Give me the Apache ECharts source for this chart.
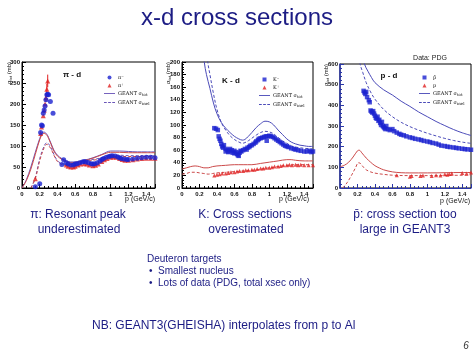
<!DOCTYPE html>
<html><head><meta charset="utf-8">
<script src="https://cdn.jsdelivr.net/npm/echarts@6/dist/echarts.min.js"></script>
<style>html,body{margin:0;padding:0;background:#fff}#c{width:474px;height:355px}</style>
</head><body><div id="c"></div>
<script>
// ---------- data ----------
const xTicks = [0, 0.2, 0.4, 0.6, 0.8, 1.0, 1.2, 1.4];
// Panel 1: pi - d
const piMinus = [[0.15,3],[0.2,10],[0.21,132],[0.22,150],[0.23,148],[0.24,178],[0.25,186],[0.26,195],[0.27,210],[0.28,222],[0.29,223],[0.3,222],[0.32,206],[0.35,178],[0.45,56],[0.47,67],[0.5,60],[0.52,57],[0.55,55],[0.58,55],[0.6,57],[0.62,58],[0.65,60],[0.68,62],[0.7,63],[0.72,62],[0.75,60],[0.78,58],[0.8,57],[0.82,58],[0.85,60],[0.88,64],[0.9,68],[0.92,70],[0.95,73],[0.98,75],[1.0,76],[1.02,77],[1.05,76],[1.08,74],[1.1,72],[1.12,70],[1.15,69],[1.18,68],[1.2,68],[1.25,69],[1.3,71],[1.35,72],[1.4,73],[1.45,73],[1.5,72]];
const piPlus = [[0.15,22],[0.21,130],[0.22,145],[0.24,172],[0.25,185],[0.26,200],[0.27,215],[0.28,235],[0.29,255],[0.5,55],[0.52,52],[0.55,50],[0.58,50],[0.6,52],[0.63,55],[0.66,57],[0.7,58],[0.73,57],[0.76,55],[0.8,53],[0.83,54],[0.86,57],[0.9,63],[0.93,67],[0.96,70],[1.0,73],[1.03,74],[1.06,73],[1.1,70],[1.13,68],[1.16,66],[1.2,66],[1.25,67],[1.3,69],[1.35,70],[1.4,71],[1.45,71],[1.5,71]];
const piPlusErr = [[0.28,222,248],[0.29,240,270],[0.27,205,225]];
const piMinusTot = [[0,0],[0.05,20],[0.1,50],[0.15,85],[0.2,118],[0.23,132],[0.25,133],[0.28,128],[0.3,120],[0.33,105],[0.36,90],[0.4,78],[0.45,70],[0.5,65],[0.55,62],[0.6,62],[0.7,66],[0.8,72],[0.9,80],[1.0,88],[1.1,88],[1.2,87],[1.3,86],[1.4,86],[1.5,86]];
const piPlusTot = [[0,0],[0.05,18],[0.1,45],[0.15,80],[0.2,115],[0.23,128],[0.25,130],[0.28,126],[0.3,118],[0.33,103],[0.36,88],[0.4,76],[0.45,68],[0.5,63],[0.55,60],[0.6,61],[0.7,65],[0.8,71],[0.9,79],[1.0,85],[1.1,85],[1.2,84],[1.3,84],[1.4,84],[1.5,84]];
const piMinusInel = [[0.1,0],[0.15,25],[0.2,70],[0.25,100],[0.28,108],[0.3,105],[0.33,95],[0.36,80],[0.4,65],[0.45,58],[0.5,56],[0.55,58],[0.6,60],[0.7,64],[0.8,68],[0.9,72],[1.0,78],[1.1,78],[1.2,77],[1.3,77],[1.4,77],[1.5,77]];
const piPlusInel = [[0.1,0],[0.15,22],[0.2,65],[0.25,96],[0.28,104],[0.3,101],[0.33,92],[0.36,78],[0.4,63],[0.45,56],[0.5,54],[0.55,56],[0.6,58],[0.7,62],[0.8,66],[0.9,70],[1.0,75],[1.1,75],[1.2,75],[1.3,75],[1.4,75],[1.5,75]];
// Panel 2: K - d
const kMinus = [[0.37,95],[0.39,94],[0.41,92],[0.42,82],[0.43,78],[0.44,75],[0.45,70],[0.46,66],[0.47,64],[0.48,68],[0.5,62],[0.5,58],[0.52,60],[0.53,57],[0.55,62],[0.55,58],[0.57,60],[0.58,56],[0.6,59],[0.6,55],[0.62,57],[0.63,54],[0.64,52],[0.65,51],[0.66,56],[0.67,59],[0.68,58],[0.7,60],[0.72,62],[0.74,61],[0.75,64],[0.77,65],[0.78,67],[0.8,68],[0.82,70],[0.84,72],[0.85,74],[0.87,76],[0.88,78],[0.9,79],[0.92,80],[0.94,81],[0.96,82],[0.97,75],[0.98,82],[1.0,83],[1.02,82],[1.04,81],[1.06,79],[1.08,77],[1.1,75],[1.12,73],[1.14,71],[1.16,69],[1.18,67],[1.2,66],[1.22,65],[1.25,63],[1.28,62],[1.3,61],[1.33,60],[1.36,59],[1.4,58],[1.43,58],[1.46,59],[1.48,57],[1.5,58]];
const kPlus = [[0.37,20],[0.4,21],[0.43,22],[0.46,23],[0.5,23],[0.53,24],[0.56,25],[0.6,25],[0.63,26],[0.66,27],[0.7,27],[0.73,28],[0.76,28],[0.8,29],[0.83,29],[0.86,30],[0.9,31],[0.93,31],[0.96,32],[1.0,32],[1.03,33],[1.06,34],[1.1,34],[1.13,35],[1.16,36],[1.2,36],[1.23,37],[1.26,36],[1.3,37],[1.33,36],[1.36,37],[1.4,36],[1.45,36],[1.5,36]];
const kMinusTot = [[0.22,250],[0.255,200],[0.28,180],[0.32,158],[0.36,135],[0.4,118],[0.45,104],[0.5,95],[0.55,88],[0.6,82],[0.65,78],[0.69,76],[0.72,77],[0.76,82],[0.8,88],[0.85,96],[0.9,102],[0.95,106],[1.0,105],[1.05,100],[1.1,92],[1.15,85],[1.2,78],[1.25,73],[1.3,70],[1.35,68],[1.4,67],[1.45,66],[1.5,66]];
const kMinusInel = [[0.26,250],[0.295,200],[0.32,180],[0.36,150],[0.4,125],[0.45,104],[0.5,92],[0.55,83],[0.6,77],[0.65,73],[0.69,71],[0.72,72],[0.76,75],[0.8,79],[0.85,84],[0.9,88],[0.95,90],[1.0,89],[1.05,86],[1.1,80],[1.15,75],[1.2,71],[1.25,67],[1.3,65],[1.4,63],[1.5,62]];
const kPlusTot = [[0,30],[0.05,32],[0.1,34],[0.15,35],[0.2,34],[0.25,32],[0.3,32],[0.35,34],[0.4,35],[0.5,36],[0.6,37],[0.7,37],[0.8,37],[0.9,39],[1.0,41],[1.1,43],[1.2,45],[1.25,45],[1.3,44],[1.4,43],[1.5,43]];
const kPlusInel = [[0,22],[0.05,23],[0.1,25],[0.15,25],[0.2,24],[0.25,23],[0.3,22],[0.35,23],[0.4,24],[0.5,25],[0.6,26],[0.7,27],[0.8,28],[0.9,30],[1.0,32],[1.1,34],[1.2,36],[1.3,37],[1.4,37],[1.5,37]];
// Panel 3: p - d
const pbar = [[0.27,470],[0.28,462],[0.29,455],[0.3,465],[0.31,440],[0.33,425],[0.34,415],[0.35,375],[0.36,370],[0.37,365],[0.38,372],[0.39,360],[0.4,350],[0.41,340],[0.42,335],[0.43,345],[0.44,325],[0.45,330],[0.46,315],[0.47,305],[0.48,320],[0.49,300],[0.5,295],[0.51,290],[0.52,285],[0.53,300],[0.55,285],[0.57,280],[0.6,285],[0.62,275],[0.65,268],[0.68,262],[0.7,258],[0.73,255],[0.76,250],[0.8,245],[0.83,242],[0.86,238],[0.9,235],[0.93,232],[0.96,228],[1.0,225],[1.03,222],[1.06,218],[1.1,215],[1.13,210],[1.16,205],[1.2,203],[1.23,200],[1.26,198],[1.3,196],[1.33,194],[1.36,192],[1.4,190],[1.43,188],[1.46,187],[1.5,185]];
const proton = [[0.65,62],[0.8,55],[0.82,58],[0.92,58],[0.95,60],[1.05,58],[1.1,62],[1.15,60],[1.2,66],[1.23,64],[1.25,68],[1.28,70],[1.4,72],[1.45,70],[1.5,75]];
const pbarTot = [[0.25,680],[0.28,600],[0.32,565],[0.36,535],[0.4,510],[0.5,475],[0.6,450],[0.7,420],[0.8,395],[0.9,368],[1.0,345],[1.1,322],[1.2,302],[1.3,283],[1.4,267],[1.5,254]];
const pbarInel = [[0.2,680],[0.23,600],[0.26,560],[0.3,510],[0.35,465],[0.4,430],[0.5,380],[0.6,345],[0.7,318],[0.8,297],[0.9,280],[1.0,265],[1.1,252],[1.2,240],[1.3,230],[1.4,222],[1.5,216]];
const protonTot = [[0,103],[0.05,110],[0.1,125],[0.15,150],[0.2,180],[0.22,183],[0.25,170],[0.3,145],[0.35,125],[0.4,108],[0.45,97],[0.5,88],[0.6,78],[0.7,74],[0.8,73],[1.0,73],[1.2,74],[1.4,75],[1.5,75]];
const protonInel = [[0.03,0],[0.08,25],[0.13,60],[0.18,100],[0.21,122],[0.23,120],[0.27,100],[0.3,88],[0.35,78],[0.4,72],[0.5,66],[0.6,62],[0.8,60],[1.0,60],[1.2,61],[1.5,62]];
const yMax = [300, 200, 600];
const yStep = [50, 20, 100];

// ---------- styles ----------
const navy = '#1c1c84';
const BLUE = '#1a22d0', RED = '#e02020';
const LBLUE = '#4a4ab8', LRED = '#cc4a4a', LPURP = '#6a55b8';
const grids = [
  {left:22, top:62, width:133, height:126},
  {left:182, top:62, width:131, height:126},
  {left:340, top:64, width:131, height:124}
];
const axisCol = ['#000','#000','#2a36a8'];

function xAx(i){
  return {gridIndex:i, type:'value', min:0, max:1.5, interval:0.2,
    axisLine:{lineStyle:{color:axisCol[i], width:1}},
    axisTick:{inside:true, length:4, lineStyle:{color:axisCol[i]}},
    minorTick:{show:true, splitNumber:4, length:2, lineStyle:{color:axisCol[i]}},
    splitLine:{show:false},
    axisLabel:{fontSize:6, margin:3, color:'#111', fontFamily:'Liberation Sans', fontWeight:'bold',
      showMaxLabel:false, formatter:v=> v===0?'0':String(Math.round(v*10)/10)}};
}
function yAx(i){
  return {gridIndex:i, type:'value', min:0, max:yMax[i], interval:yStep[i],
    axisLine:{show:true, lineStyle:{color:axisCol[i], width: i===2?1.5:1}},
    axisTick:{inside:true, length:4, lineStyle:{color:axisCol[i]}},
    minorTick:{show:true, splitNumber:5, length:2, lineStyle:{color:axisCol[i]}},
    splitLine:{show:false},
    axisLabel:{fontSize:6, margin:2, color:'#111', fontFamily:'Liberation Sans', fontWeight:'bold'}};
}
function sc(name, i, data, sym, size, color){
  return {type:'scatter', name, xAxisIndex:i, yAxisIndex:i, data, symbol:sym, symbolSize:size,
    itemStyle:{color}, z:5, silent:true};
}
function ln(name, i, data, color, dashed){
  return {type:'line', name, xAxisIndex:i, yAxisIndex:i, data, symbol:'none', smooth:0.35,
    lineStyle:{color, width:1, type: dashed?[3,2]:'solid'}, itemStyle:{color}, z:3, silent:true};
}
const legendRich = {s:{fontSize:4, fontFamily:'DejaVu Serif', color:'#111', padding:[3,0,0,0]}};
function legendFmt(n){
  if (n.startsWith('tot')) return 'GEANT σ{s|tot}';
  if (n.startsWith('inel')) return 'GEANT σ{s|inel}';
  return n;
}
const solidIcon = 'path://M0,0h12v1h-12z';
const dashIcon = 'path://M0,0h3v1h-3z M4.5,0h3v1h-3z M9,0h3v1h-3z';
const squareIcon = 'path://M0,0h1v1h-1z';
const triIcon = 'path://M0.5,0L1,1L0,1Z';
function leg(left, top, names, firstIcon){
  return {left, top, orient:'vertical',
    data:[{name:names[0], icon:firstIcon}, {name:names[1], icon:triIcon},
          {name:names[2], icon:solidIcon}, {name:names[3], icon:dashIcon}],
    itemWidth:11, itemHeight:4, itemGap:3,
    selectedMode:false, formatter:legendFmt,
    textStyle:{fontSize:5, fontFamily:'DejaVu Serif', color:'#111', padding:[0,0,0,-2], rich:legendRich}};
}

function txt(x, y, text, size, opts){
  opts = opts || {};
  return {type:'text', x, y, rotation: opts.rot||0, z:10,
    style:{text, fontSize:size, fill: opts.color||navy, fontFamily: opts.font||'Liberation Sans',
      fontWeight: opts.weight||'normal', fontStyle: opts.style||'normal',
      align: opts.align||'center', verticalAlign:'middle', rich: opts.rich}};
}
const subRich = {s:{fontSize:4, fontFamily:'Liberation Sans', fill:'#111', padding:[3,0,0,0]}};

const option = {
  animation:false,
  backgroundColor:'#fff',
  grid: grids.map(g=>Object.assign({show:true, borderColor:'#000', borderWidth:1, backgroundColor:'transparent'}, g)),
  xAxis:[xAx(0), xAx(1), xAx(2)],
  yAxis:[yAx(0), yAx(1), yAx(2)],
  legend:[
    leg(99, 70, ['π⁻','π⁺','tot1','inel1'], 'circle'),
    leg(254, 72, ['K⁻','K⁺','tot2','inel2'], squareIcon),
    leg(414, 70, ['p\u0304','p','tot3','inel3'], squareIcon)
  ],
  series:[
    ln('tot1', 0, piMinusTot, LPURP, false),
    ln('tot1r', 0, piPlusTot, LRED, false),
    ln('inel1', 0, piMinusInel, LPURP, true),
    ln('inel1r', 0, piPlusInel, LRED, true),
    {type:'custom', name:'err', xAxisIndex:0, yAxisIndex:0, data:piPlusErr, silent:true, z:4,
      renderItem:(p, api)=>{
        const a = api.coord([api.value(0), api.value(1)]);
        const b = api.coord([api.value(0), api.value(2)]);
        return {type:'line', shape:{x1:a[0], y1:a[1], x2:b[0], y2:b[1]}, style:{stroke:RED, lineWidth:1}};
      }},
    sc('π⁺', 0, piPlus, 'triangle', 5, RED),
    sc('π⁻', 0, piMinus, 'circle', 5, BLUE),

    ln('tot2', 1, kMinusTot, LBLUE, false),
    ln('inel2', 1, kMinusInel, LBLUE, true),
    ln('tot2r', 1, kPlusTot, LRED, false),
    ln('inel2r', 1, kPlusInel, LRED, true),
    sc('K⁻', 1, kMinus, 'rect', 4.5, BLUE),
    sc('K⁺', 1, kPlus, 'triangle', 4, RED),

    ln('tot3', 2, pbarTot, LBLUE, false),
    ln('inel3', 2, pbarInel, LBLUE, true),
    ln('tot3r', 2, protonTot, LRED, false),
    ln('inel3r', 2, protonInel, LRED, true),
    sc('p\u0304', 2, pbar, 'rect', 4.5, BLUE),
    sc('p', 2, proton, 'triangle', 4, RED)
  ],
  graphic:[
    txt(237, 18, 'x-d cross sections', 24),
    txt(430, 58, 'Data: PDG', 7, {color:'#222'}),
    // panel labels
    txt(72, 75, 'π - d', 8, {color:'#111', weight:'bold'}),
    txt(231, 81, 'K - d', 8, {color:'#111', weight:'bold'}),
    txt(389, 76, 'p - d', 8, {color:'#111', weight:'bold'}),
    // y titles
    txt(9, 62, 'σ{s|tot} (mb)', 6, {color:'#111', rot:Math.PI/2, align:'right', rich:subRich}),
    txt(168, 62, 'σ{s|tot} (mb)', 6, {color:'#111', rot:Math.PI/2, align:'right', rich:subRich}),
    txt(326, 64, 'σ{s|tot} (mb)', 6, {color:'#111', rot:Math.PI/2, align:'right', rich:subRich}),
    // x titles
    txt(155, 199, 'p (GeV/c)', 7, {color:'#111', align:'right'}),
    txt(309, 199, 'p (GeV/c)', 7, {color:'#111', align:'right'}),
    txt(470, 201, 'p (GeV/c)', 7, {color:'#111', align:'right'}),
    // captions
    txt(78, 215, 'π: Resonant peak', 12),
    txt(79, 230, 'underestimated', 12),
    txt(245, 215, 'K: Cross sections', 12),
    txt(246, 230, 'overestimated', 12),
    txt(405, 215, 'p\u0304: cross section too', 12),
    txt(405, 230, 'large in GEANT3', 12),
    txt(147, 259, 'Deuteron targets', 10, {align:'left'}),
    txt(149, 271, '•  Smallest nucleus', 10, {align:'left'}),
    txt(149, 283, '•  Lots of data (PDG, total xsec only)', 10, {align:'left'}),
    txt(92, 326, 'NB: GEANT3(GHEISHA) interpolates from p to Al', 12, {align:'left'}),
    txt(466, 346, '6', 10, {color:'#333', style:'italic'})
  ]
};
const chart = echarts.init(document.getElementById('c'), null, {renderer:'canvas'});
chart.setOption(option);
</script></body></html>
